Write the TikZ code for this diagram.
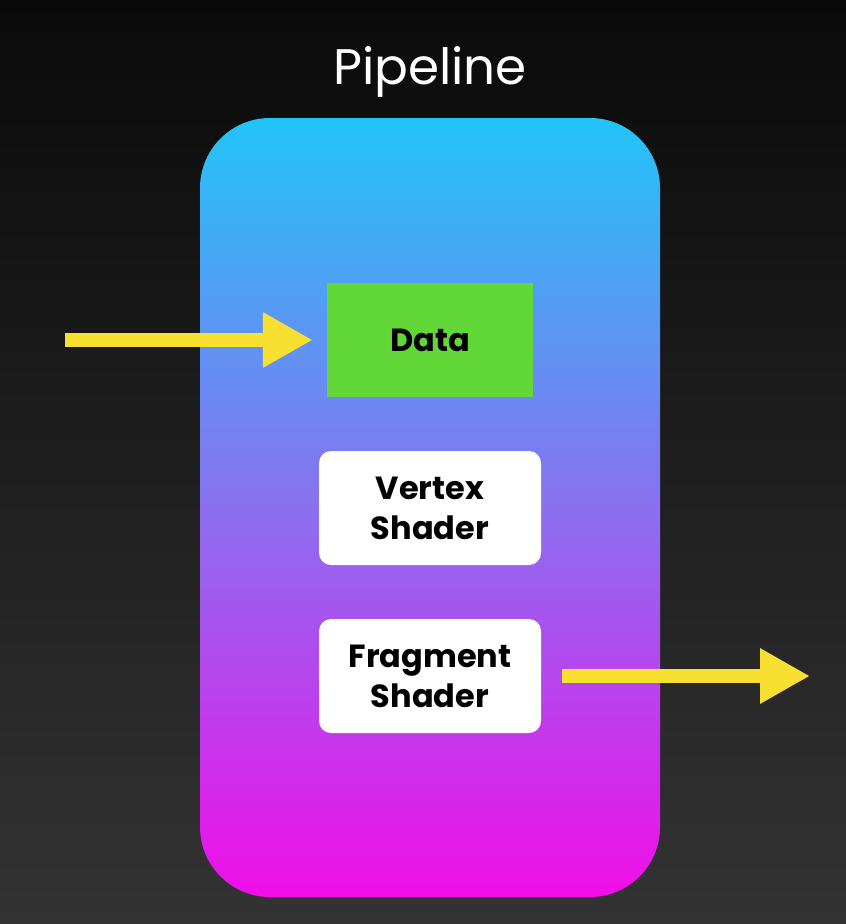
\documentclass[tikz,border=0pt]{standalone}
\usepackage{fontspec}
\setmainfont{Poppins}
\usetikzlibrary{arrows.meta}
\definecolor{bgtop}{HTML}{0A0A0A}
\definecolor{bgbot}{HTML}{333333}
\definecolor{pipetop}{HTML}{22C4F8}
\definecolor{pipemid}{HTML}{8A70F0}
\definecolor{pipebot}{HTML}{F00EE8}
\definecolor{datagreen}{HTML}{62D838}
\definecolor{arrowyellow}{HTML}{F8E030}
\tikzset{
  stage/.style={draw=none, fill=white, rounded corners=12pt, minimum width=222pt, minimum height=114pt, align=center, font=\fontsize{32}{40}\selectfont\bfseries, text=black},
  flow/.style={draw=arrowyellow, line width=14pt, -{Triangle[length=50pt,width=52pt]}}
}
\begin{document}
\begin{tikzpicture}[x=1pt,y=-1pt]
\useasboundingbox (0,0) rectangle (846,924);
\shade[top color=bgtop, bottom color=bgbot] (0,0) rectangle (846,924);
\shade[top color=pipetop, bottom color=pipebot, middle color=pipemid, rounded corners=70pt] (200,118) rectangle (660,897);
\node[text=white, font=\fontsize{50}{60}\selectfont] (title) at (430,72) {Pipeline};
\node[stage, fill=datagreen, rounded corners=0pt, minimum width=206pt] (data) at (430,340) {Data};
\node[stage] (vertex) at (430,508) {Vertex\\Shader};
\node[stage] (fragment) at (430,676) {Fragment\\Shader};
\coordinate (in) at (65,340);
\coordinate (out) at (810,676);
\draw[flow, shorten >=14pt] (in) -- (data.west);
\draw[flow, shorten <=21pt] (fragment.east) -- (out);
\end{tikzpicture}
\end{document}
